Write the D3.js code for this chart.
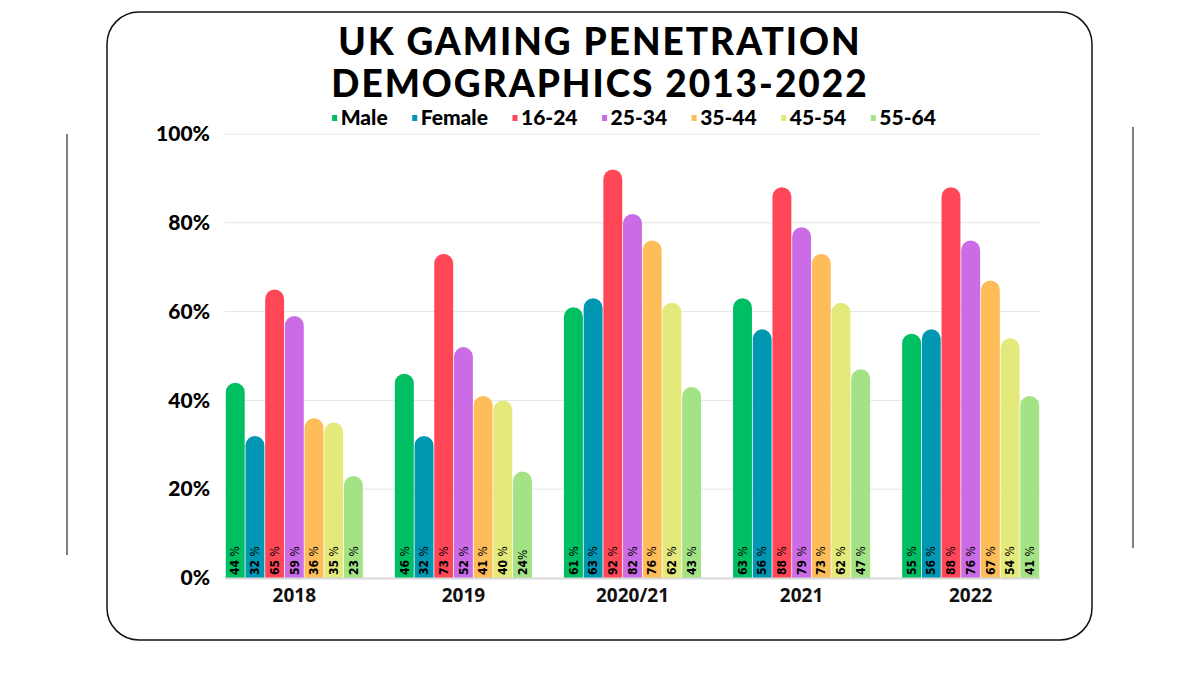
<!DOCTYPE html>
<html>
<head>
  <meta charset="utf-8">
  <script src="https://d3js.org/d3.v7.min.js"></script>
  <style>
    body { margin: 0; background: #fff; }
  </style>
</head>
<body>
  <div id="chart"></div>
  <script>
    // data
    var years = ["2018", "2019", "2020/21", "2021", "2022"];
    var groups = ["Male", "Female", "16-24", "25-34", "35-44", "45-54", "55-64"];
    var colors = ["#00bf63", "#0097b2", "#ff4757", "#cb6ce6", "#ffbd59", "#e4e97b", "#a3e385"];
    var male = [44, 46, 61, 63, 55];
    var female = [32, 32, 63, 56, 56];
    var age1624 = [65, 73, 92, 88, 88];
    var age2534 = [59, 52, 82, 79, 76];
    var age3544 = [36, 41, 76, 73, 67];
    var age4554 = [35, 40, 62, 62, 54];
    var age5564 = [23, 24, 43, 47, 41];
    var yTicks = [0, 20, 40, 60, 80, 100];

    var series = [male, female, age1624, age2534, age3544, age4554, age5564];

    var W = 1200, H = 675;
    var svg = d3.select("#chart").append("svg")
      .attr("width", W).attr("height", H);

    // frame
    svg.append("rect")
      .attr("x", 107).attr("y", 12)
      .attr("width", 985).attr("height", 628)
      .attr("rx", 32).attr("ry", 32)
      .attr("fill", "#fff").attr("stroke", "#111").attr("stroke-width", 1.5);

    svg.append("line").attr("x1", 67).attr("x2", 67).attr("y1", 134).attr("y2", 555)
      .attr("stroke", "#555").attr("stroke-width", 1.5);
    svg.append("line").attr("x1", 1133).attr("x2", 1133).attr("y1", 127).attr("y2", 548)
      .attr("stroke", "#555").attr("stroke-width", 1.5);

    // title
    var titleLines = ["UK GAMING PENETRATION", "DEMOGRAPHICS 2013-2022"];
    svg.append("g").selectAll("text").data(titleLines).enter().append("text")
      .attr("x", 600)
      .attr("y", function (d, i) { return 55 + i * 42; })
      .attr("text-anchor", "middle")
      .style("font-family", "Lato, sans-serif")
      .style("font-weight", 900)
      .style("font-size", "37px")
      .style("letter-spacing", "2px")
      .attr("fill", "#000")
      .text(function (d) { return d; });

    // legend, laid out from text widths and centred
    var gap = 27;
    var legend = svg.append("g");
    var items = legend.selectAll("g").data(groups).enter().append("g");
    items.append("rect")
      .attr("x", -2.5).attr("y", 115)
      .attr("width", 5).attr("height", 6)
      .attr("fill", function (d, i) { return colors[i]; });
    items.append("text")
      .attr("x", 6).attr("y", 125)
      .style("font-family", "Lato, sans-serif")
      .style("font-weight", 900)
      .style("font-size", "21px")
      .text(function (d) { return d; });
    var pos = 0, offsets = [];
    items.each(function () {
      offsets.push(pos);
      pos += 6 + d3.select(this).select("text").node().getComputedTextLength() + gap;
    });
    var total = pos - gap + 2.5;
    var start = 634 - total / 2 + 2.5;
    items.attr("transform", function (d, i) { return "translate(" + (start + offsets[i]) + ",0)"; });

    var x0 = 225, x1 = 1040, yTop = 134, yBase = 578;

    var x = d3.scaleBand().domain(years).range([x0, x1]).paddingInner(0.18).paddingOuter(0);
    var xi = d3.scaleBand().domain(groups).range([0, x.bandwidth()]).padding(0.04);
    var y = d3.scaleLinear().domain([0, 100]).range([yBase, yTop]);

    // grid
    svg.append("g").selectAll("line").data(yTicks.slice(1)).enter().append("line")
      .attr("x1", x0).attr("x2", x1)
      .attr("y1", function (d) { return y(d); }).attr("y2", function (d) { return y(d); })
      .attr("stroke", "#e6e6e6").attr("stroke-width", 1);

    // y axis labels
    var yAxis = svg.append("g").attr("transform", "translate(" + 210 + ",0)")
      .call(d3.axisLeft(y).tickValues(yTicks).tickSize(0).tickPadding(0)
        .tickFormat(function (d) { return d + "%"; }));
    yAxis.select(".domain").remove();
    yAxis.selectAll("text")
      .style("font-family", "Lato, sans-serif")
      .style("font-weight", 900)
      .style("font-size", "21px")
      .attr("fill", "#000");

    function topRounded(bx, by, w, h) {
      var r = Math.min(w / 2, h);
      return "M" + bx + "," + (by + h) +
        "V" + (by + r) +
        "A" + r + "," + r + " 0 0 1 " + (bx + r) + "," + by +
        "H" + (bx + w - r) +
        "A" + r + "," + r + " 0 0 1 " + (bx + w) + "," + (by + r) +
        "V" + (by + h) + "Z";
    }

    var flat = [];
    years.forEach(function (yr, i) {
      groups.forEach(function (g, j) {
        flat.push({ year: yr, group: g, value: series[j][i], color: colors[j] });
      });
    });

    var bars = svg.append("g");
    bars.selectAll("path").data(flat).enter().append("path")
      .attr("d", function (d) {
        var bx = x(d.year) + xi(d.group);
        return topRounded(bx, y(d.value), xi.bandwidth(), yBase - y(d.value));
      })
      .attr("fill", function (d) { return d.color; });

    // value labels
    var labels = bars.selectAll("text.val").data(flat).enter().append("text")
      .attr("class", "val")
      .attr("transform", function (d) {
        var cx = x(d.year) + xi(d.group) + xi.bandwidth() / 2;
        return "translate(" + cx + "," + (yBase - 3) + ") rotate(-90)";
      })
      .attr("dy", "0.35em")
      .style("font-family", "'DejaVu Sans Condensed', 'DejaVu Sans', sans-serif")
      .style("font-size", "12px")
      .attr("fill", "#000");
    labels.append("tspan").style("font-weight", "bold").text(function (d) { return d.value; });
    labels.append("tspan").text(function (d) { return (d.year === "2019" && d.group === "55-64") ? "%" : " %"; });

    // x axis
    svg.append("line").attr("x1", x0).attr("x2", x1).attr("y1", yBase + 0.5).attr("y2", yBase + 0.5)
      .attr("stroke", "#d9d9d9").attr("stroke-width", 2);

    var xAxis = svg.append("g").attr("transform", "translate(0," + yBase + ")")
      .call(d3.axisBottom(x).tickSize(0).tickPadding(11));
    xAxis.select(".domain").remove();
    xAxis.selectAll("text")
      .style("font-family", "'Open Sans', sans-serif")
      .style("font-weight", 700)
      .style("font-size", "19px")
      .attr("fill", "#111");
  </script>
</body>
</html>
